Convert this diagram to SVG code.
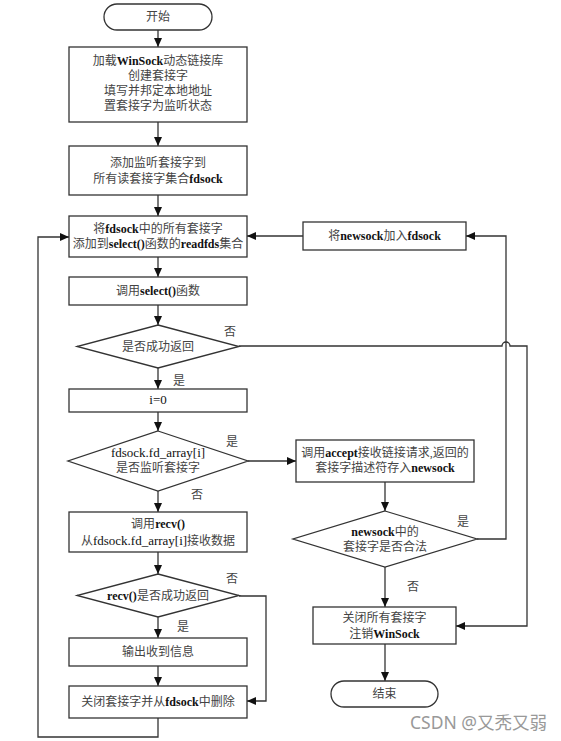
<svg xmlns="http://www.w3.org/2000/svg" width="561" height="741" viewBox="0 0 561 741">
<defs>
<marker id="arr" markerUnits="userSpaceOnUse" markerWidth="9" markerHeight="8" refX="9" refY="4" orient="auto">
<path d="M0,0 L9,4 L0,8 z" fill="#111"/>
</marker>
<style>
.n{fill:#fff;stroke:#333;stroke-width:1.3}
.t{font-family:"Liberation Serif","Noto Sans CJK SC",serif;font-size:12px;fill:#444;text-anchor:middle}
.b{font-weight:bold;fill:#111}
.r{fill:#111;font-size:13px}
.l{font-family:"Liberation Serif","Noto Sans CJK SC",serif;font-size:12px;fill:#444}
.c{fill:none;stroke:#333;stroke-width:1.3;marker-end:url(#arr)}
</style>
</defs>
<rect width="561" height="741" fill="#fff"/>
<g id="connectors">
<path class="c" d="M158,30 V47"/>
<path class="c" d="M158,122 V146"/>
<path class="c" d="M158,195 V216"/>
<path class="c" d="M158,257 V277"/>
<path class="c" d="M158,305 V325"/>
<path class="c" d="M158,368 V389"/>
<path class="c" d="M158,412 V431"/>
<path class="c" d="M158,491 V512"/>
<path class="c" d="M158,552 V574"/>
<path class="c" d="M158,617 V638"/>
<path class="c" d="M158,666 V686"/>
<path class="c" d="M239,596 H266 V701 H247"/>
<path class="c" d="M158,718 V737 H38 V237 H69"/>
<path class="c" d="M248,461 H296"/>
<path class="c" d="M385,482 V511"/>
<path class="c" d="M477,539 H506 V236 H466"/>
<path class="c" d="M303,236 H247"/>
<path class="c" d="M239,346 H502 A4,4 0 0 1 510,346 H527 V626 H456"/>
<path class="c" d="M385,567 V607"/>
<path class="c" d="M385,644 V681"/>
</g>
<g id="start">
<rect class="n" x="104" y="4" width="108" height="26" rx="13"/>
<text class="t" x="158" y="21">开始</text>
</g>
<g id="init">
<rect class="n" x="69" y="47" width="178" height="75"/>
<text class="t" x="158" y="65">加载<tspan class="b">WinSock</tspan>动态链接库</text>
<text class="t" x="158" y="80">创建套接字</text>
<text class="t" x="158" y="95">填写并邦定本地地址</text>
<text class="t" x="158" y="110">置套接字为监听状态</text>
</g>
<g id="addlisten">
<rect class="n" x="69" y="146" width="178" height="49"/>
<text class="t" x="158" y="167">添加监听套接字到</text>
<text class="t" x="158" y="183">所有读套接字集合<tspan class="b">fdsock</tspan></text>
</g>
<g id="addreadfds">
<rect class="n" x="69" y="216" width="178" height="41"/>
<text class="t" x="158" y="233">将<tspan class="b">fdsock</tspan>中的所有套接字</text>
<text class="t" x="158" y="248">添加到<tspan class="b">select()</tspan>函数的<tspan class="b">readfds</tspan>集合</text>
</g>
<g id="select">
<rect class="n" x="69" y="277" width="178" height="28"/>
<text class="t" x="158" y="295">调用<tspan class="b">select()</tspan>函数</text>
</g>
<g id="d1">
<polygon class="n" points="158,325 239,346.5 158,368 77,346.5"/>
<text class="t" x="158" y="351">是否成功返回</text>
</g>
<g id="i0">
<rect class="n" x="69" y="389" width="178" height="23"/>
<text class="t" x="158" y="404"><tspan class="r">i=0</tspan></text>
</g>
<g id="d2">
<polygon class="n" points="158,431 248,461 158,491 68,461"/>
<text class="t" x="158" y="457"><tspan class="r">fdsock.fd_array[i]</tspan></text>
<text class="t" x="158" y="472">是否监听套接字</text>
</g>
<g id="recv">
<rect class="n" x="69" y="512" width="178" height="40"/>
<text class="t" x="158" y="528">调用<tspan class="b">recv()</tspan></text>
<text class="t" x="158" y="545">从<tspan class="r">fdsock.fd_array[i]</tspan>接收数据</text>
</g>
<g id="d3">
<polygon class="n" points="158,574 239,595.5 158,617 77,595.5"/>
<text class="t" x="158" y="600"><tspan class="b">recv()</tspan>是否成功返回</text>
</g>
<g id="output">
<rect class="n" x="69" y="638" width="178" height="28"/>
<text class="t" x="158" y="656">输出收到信息</text>
</g>
<g id="closesock">
<rect class="n" x="69" y="686" width="178" height="32"/>
<text class="t" x="158" y="706">关闭套接字并从<tspan class="b">fdsock</tspan>中删除</text>
</g>
<g id="addnew">
<rect class="n" x="303" y="222" width="163" height="28"/>
<text class="t" x="384.5" y="240">将<tspan class="b">newsock</tspan>加入<tspan class="b">fdsock</tspan></text>
</g>
<g id="accept">
<rect class="n" x="296" y="440" width="178" height="42"/>
<text class="t" x="385" y="457">调用<tspan class="b">accept</tspan>接收链接请求,返回的</text>
<text class="t" x="385" y="472">套接字描述符存入<tspan class="b">newsock</tspan></text>
</g>
<g id="d4">
<polygon class="n" points="385,511 477,539 385,567 293,539"/>
<text class="t" x="385" y="536"><tspan class="b">newsock</tspan>中的</text>
<text class="t" x="385" y="551">套接字是否合法</text>
</g>
<g id="closeall">
<rect class="n" x="313" y="607" width="143" height="37"/>
<text class="t" x="384.5" y="622">关闭所有套接字</text>
<text class="t" x="384.5" y="638">注销<tspan class="b">WinSock</tspan></text>
</g>
<g id="end">
<rect class="n" x="331" y="681" width="107" height="26" rx="13"/>
<text class="t" x="384.5" y="698">结束</text>
</g>
<g id="labels">
<text class="l" x="224" y="336">否</text>
<text class="l" x="173" y="385">是</text>
<text class="l" x="226" y="446">是</text>
<text class="l" x="191" y="499">否</text>
<text class="l" x="226" y="583">否</text>
<text class="l" x="177" y="631">是</text>
<text class="l" x="457" y="526">是</text>
<text class="l" x="407" y="591">否</text>
</g>
<text x="410" y="729" font-family="'Noto Sans','Noto Sans CJK SC',sans-serif" font-size="17.5" fill="#999">CSDN @又秃又弱</text>
</svg>
